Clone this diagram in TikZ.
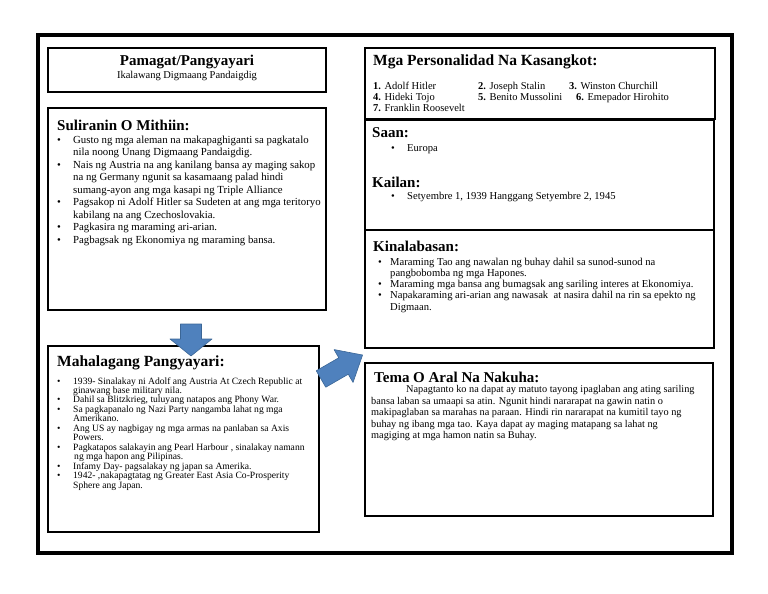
\documentclass[tikz,border=0pt]{standalone}
\usepackage{fontspec}
\setmainfont{Liberation Serif}
\definecolor{arrowblue}{HTML}{4F81BD}
\definecolor{arrowedge}{HTML}{3B6696}
\tikzset{
  frame/.style={line width=3.3pt},
  box/.style={draw, line width=1.8pt, rectangle, inner sep=0pt, outer sep=0pt, anchor=north west},
  heading/.style={anchor=base west, inner sep=0pt, font=\bfseries\fontsize{15}{18}\selectfont},
  body/.style={anchor=base west, inner sep=0pt},
  blockarrow/.style={fill=arrowblue, draw=arrowedge, line width=0.6pt, line join=round}
}

\begin{document}
\begin{tikzpicture}[x=1pt,y=-1pt]
\useasboundingbox (0,0) rectangle (768,594);
\draw[frame] (38,35) rectangle (732,553);

\node[box, minimum width=278pt, minimum height=44pt] (pamagat) at (48,48) {};
\node[box, minimum width=278pt, minimum height=202pt] (suliranin) at (48,108) {};
\node[box, minimum width=271pt, minimum height=186pt] (mahalaga) at (48,346) {};
\node[box, minimum width=350pt, minimum height=71pt] (personalidad) at (365,48) {};
\node[box, minimum width=349pt, minimum height=110pt] (saan) at (365,120) {};
\node[box, minimum width=349pt, minimum height=118pt] (kinalabasan) at (365,230) {};
\node[box, minimum width=348pt, minimum height=153pt] (tema) at (365,363) {};

\node[anchor=base, inner sep=0pt, font=\bfseries\fontsize{15}{18}\selectfont] (pamagathead) at (187,66) {Pamagat/Pangyayari};
\node[anchor=base, inner sep=0pt, font=\fontsize{10.5}{12}\selectfont] (pamagatsub) at (187,78) {Ikalawang Digmaang Pandaigdig};

\node[heading] (sulhead) at (57,130) {Suliranin O Mithiin:};
\node[body, font=\fontsize{10.8}{12.5}\selectfont] (sullist) at (57,143) {\begin{tabular}[t]{@{}p{16pt}@{}l@{}}
\textbullet & Gusto ng mga aleman na makapaghiganti sa pagkatalo\\
 & nila noong Unang Digmaang Pandaigdig.\\
\textbullet & Nais ng Austria na ang kanilang bansa ay maging sakop\\
 & na ng Germany ngunit sa kasamaang palad hindi\\
 & sumang-ayon ang mga kasapi ng Triple Alliance\\
\textbullet & Pagsakop ni Adolf Hitler sa Sudeten at ang mga teritoryo\\
 & kabilang na ang Czechoslovakia.\\
\textbullet & Pagkasira ng maraming ari-arian.\\
\textbullet & Pagbagsak ng Ekonomiya ng maraming bansa.
\end{tabular}};

\node[heading, font=\bfseries\fontsize{15.5}{18}\selectfont] (mahhead) at (57,366) {Mahalagang Pangyayari:};
\node[body, font=\fontsize{9.6}{9.4}\selectfont] (mahlist) at (57,384) {\begin{tabular}[t]{@{}p{16pt}@{}l@{}}
\textbullet & 1939- Sinalakay ni Adolf ang Austria At Czech Republic at\\
 & ginawang base military nila.\\
\textbullet & Dahil sa Blitzkrieg, tuluyang natapos ang Phony War.\\
\textbullet & Sa pagkapanalo ng Nazi Party nangamba lahat ng mga\\
 & Amerikano.\\
\textbullet & Ang US ay nagbigay ng mga armas na panlaban sa Axis\\
 & Powers.\\
\textbullet & Pagkatapos salakayin ang Pearl Harbour , sinalakay namann\\
 & \hspace{1pt}ng mga hapon ang Pilipinas.\\
\textbullet & Infamy Day- pagsalakay ng japan sa Amerika.\\
\textbullet & 1942- ,nakapagtatag ng Greater East Asia Co-Prosperity\\
 & Sphere ang Japan.
\end{tabular}};

\node[heading, font=\bfseries\fontsize{15.5}{18}\selectfont] (perhead) at (373,66) {Mga Personalidad Na Kasangkot:};
\foreach \num/\who/\px/\py in {1/Adolf Hitler/373/89, 2/Joseph Stalin/478/89, 3/Winston Churchill/569/89,
    4/Hideki Tojo/373/100, 5/Benito Mussolini/478/100, 6/Emepador Hirohito/576/100, 7/Franklin Roosevelt/373/111}
  \node[body, font=\fontsize{10.5}{11}\selectfont] (tao\num) at (\px,\py) {\textbf{\num.} \who};

\node[heading] (saanhead) at (372,137) {Saan:};
\node[body, font=\fontsize{10.6}{11}\selectfont] (saanlist) at (391,151) {\begin{tabular}[t]{@{}p{16pt}@{}l@{}}
\textbullet & Europa
\end{tabular}};
\node[heading] (kailanhead) at (372,187) {Kailan:};
\node[body, font=\fontsize{10.6}{11}\selectfont] (kailanlist) at (391,199) {\begin{tabular}[t]{@{}p{16pt}@{}l@{}}
\textbullet & Setyembre 1, 1939 Hanggang Setyembre 2, 1945
\end{tabular}};

\node[heading] (kinhead) at (373,251) {Kinalabasan:};
\node[body, font=\fontsize{10.6}{11.3}\selectfont] (kinlist) at (378,265) {\begin{tabular}[t]{@{}p{12pt}@{}l@{}}
\textbullet & Maraming Tao ang nawalan ng buhay dahil sa sunod-sunod na\\
 & pangbobomba ng mga Hapones.\\
\textbullet & Maraming mga bansa ang bumagsak ang sariling interes at Ekonomiya.\\
\textbullet & Napakaraming ari-arian ang nawasak \ at nasira dahil na rin sa epekto ng\\
 & Digmaan.
\end{tabular}};

\node[heading] (temahead) at (374,382) {Tema O Aral Na Nakuha:};
\node[body, font=\fontsize{10.3}{11.5}\selectfont] (tematext) at (371,392.5) {\begin{tabular}[t]{@{}l@{}}
\hspace*{35pt}Napagtanto ko na dapat ay matuto tayong ipaglaban ang ating sariling\\
bansa laban sa umaapi sa atin. Ngunit hindi nararapat na gawin natin o\\
makipaglaban sa marahas na paraan. Hindi rin nararapat na kumitil tayo ng\\
buhay ng ibang mga tao. Kaya dapat ay maging matapang sa lahat ng\\
magiging at mga hamon natin sa Buhay.
\end{tabular}};

\begin{scope}[shift={(191,324)}, rotate=-90]
  \filldraw[blockarrow] (0,-10.5) -- (15,-10.5) -- (15,-21) -- (32,0) -- (15,21) -- (15,10.5) -- (0,10.5) -- cycle;
\end{scope}
\begin{scope}[shift={(321,379)}, rotate=30]
  \filldraw[blockarrow] (0,-9.5) -- (26,-9.5) -- (26,-19) -- (48,0) -- (26,19) -- (26,9.5) -- (0,9.5) -- cycle;
\end{scope}
\end{tikzpicture}
\end{document}
